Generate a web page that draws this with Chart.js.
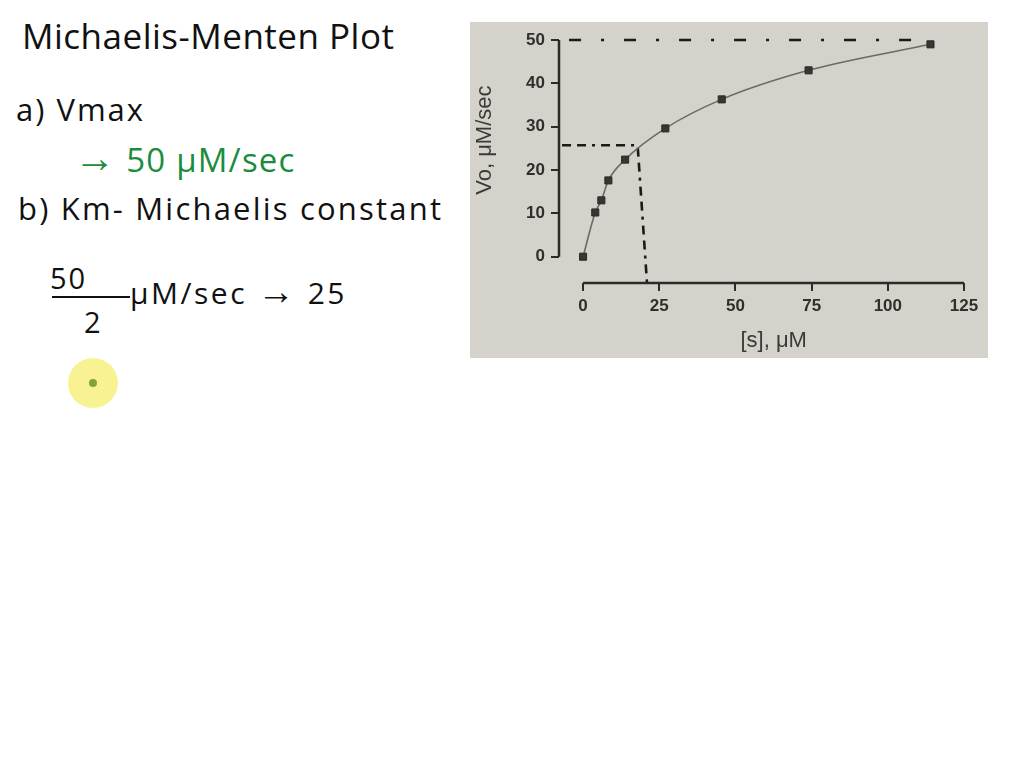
<!DOCTYPE html>
<html>
<head>
<meta charset="UTF-8">
<title>Michaelis-Menten Plot</title>
<script src="https://cdn.jsdelivr.net/npm/chart.js@4"></script>
<style>
  body { margin: 0; background: #ffffff; width: 1024px; height: 768px; overflow: hidden; position: relative; font-family: "Open Sans", sans-serif; }
  .note { position: absolute; white-space: nowrap; color: #111; font-weight: 400; }
  .green { color: #1c8c3c; }
  .arrow { font-size: 1.25em; }
  .panel { position: absolute; left: 470px; top: 22px; width: 518px; height: 336px; background: #d4d2cb; }
  .frac { position: absolute; left: 52px; top: 296px; width: 78px; border-top: 2px solid #111; }
  .pointer { position: absolute; left: 68px; top: 358px; width: 50px; height: 50px; border-radius: 50%; background: #f8f293; }
  .pointer div { position: absolute; left: 21px; top: 21px; width: 8px; height: 8px; border-radius: 50%; background: #86a040; }
</style>
</head>
<body>
  <div class="note" style="left:22px; top:12px; font-size:35px; letter-spacing:0.5px;">Michaelis-Menten Plot</div>
  <div class="note" style="left:16px; top:88px; font-size:31px; letter-spacing:2px;">a) Vmax</div>
  <div class="note green" style="left:74px; top:128px; font-size:33px; letter-spacing:1.2px;"><span class="arrow">→</span> 50 μM/sec</div>
  <div class="note" style="left:18px; top:187px; font-size:31px; letter-spacing:2.2px;">b) Km- Michaelis constant</div>
  <div class="note" style="left:50px; top:258px; font-size:29px; letter-spacing:2px;">50</div>
  <div class="frac"></div>
  <div class="note" style="left:84px; top:302px; font-size:29px;">2</div>
  <div class="note" style="left:130px; top:264px; font-size:30px; letter-spacing:2.5px;">μM/sec <span class="arrow">→</span> 25</div>
  <div class="pointer"><div></div></div>

  <div class="panel">
    <canvas id="mmChart"></canvas>
  </div>

  <script>
    // measured substrate concentration and initial velocity
    const substrate = [0, 4, 6, 8.3, 13.8, 27, 45.5, 74, 114];
    const velocity = [0, 10.2, 13, 17.6, 22.4, 29.6, 36.3, 43, 49];

    // hand drawn guide lines (Vmax and Km)
    const vmaxX = [-4.6, 113];
    const vmaxY = [50, 50];
    const kmX = [-6.9, 17.9, 21];
    const kmY = [25.7, 25.7, -6.3];

    const xTicks = [0, 25, 50, 75, 100, 125];
    const yTicks = [0, 10, 20, 30, 40, 50];

    function pairs(xs, ys) {
      return xs.map((x, i) => ({ x: x, y: ys[i] }));
    }

    const ink = '#2b2b2a';

    // Prism style axes: lines only span the tick range
    const axisLines = {
      id: 'axisLines',
      afterDraw(chart) {
        const ctx = chart.ctx;
        const xs = chart.scales.x, ys = chart.scales.y;
        const area = chart.chartArea;
        ctx.save();
        ctx.strokeStyle = ink;
        ctx.lineWidth = 2.5;
        ctx.beginPath();
        ctx.moveTo(xs.getPixelForValue(xTicks[0]), area.bottom);
        ctx.lineTo(xs.getPixelForValue(xTicks[xTicks.length - 1]), area.bottom);
        ctx.moveTo(area.left, ys.getPixelForValue(yTicks[0]));
        ctx.lineTo(area.left, ys.getPixelForValue(yTicks[yTicks.length - 1]));
        ctx.stroke();
        ctx.restore();
      }
    };

    const tickFont = { family: 'Liberation Sans, Arial, sans-serif', size: 17, weight: 'bold' };
    const titleFont = { family: 'Liberation Sans, Arial, sans-serif', size: 22 };
    const nb = '\u00a0';

    new Chart(document.getElementById('mmChart'), {
      type: 'scatter',
      data: {
        datasets: [{
          label: 'data',
          data: pairs(substrate, velocity),
          pointStyle: 'rect',
          pointRadius: 5,
          backgroundColor: '#363634',
          borderColor: '#2a2a28',
          borderWidth: 1
        }, {
          label: 'fit',
          data: pairs(substrate, velocity),
          showLine: true,
          pointRadius: 0,
          borderColor: '#6a6a66',
          borderWidth: 1.6,
          cubicInterpolationMode: 'monotone'
        }, {
          label: 'Vmax',
          data: pairs(vmaxX, vmaxY),
          showLine: true,
          pointRadius: 0,
          borderColor: '#1a1a1a',
          borderWidth: 2.6,
          borderDash: [12, 20, 3, 20],
          clip: false
        }, {
          label: 'Km',
          data: pairs(kmX, kmY),
          showLine: true,
          pointRadius: 0,
          borderColor: '#1a1a1a',
          borderWidth: 2.6,
          borderDash: [9, 6, 9, 6, 3, 6],
          clip: false
        }]
      },
      options: {
        responsive: true,
        maintainAspectRatio: false,
        animation: false,
        layout: { padding: { top: 18, right: 24, left: 0, bottom: 0 } },
        plugins: { legend: { display: false }, tooltip: { enabled: false } },
        scales: {
          x: {
            type: 'linear',
            min: -7.9,
            max: 125,
            afterBuildTicks: s => { s.ticks = xTicks.map(v => ({ value: v })); },
            afterFit: s => { s.height = 75; },
            border: { display: false },
            grid: { drawOnChartArea: false, drawTicks: true, tickLength: 8, color: ink, lineWidth: 2 },
            ticks: { color: '#2f2f2d', font: tickFont, padding: 5, maxRotation: 0 },
            title: { display: true, text: nb.repeat(4) + '[s], μM', color: '#3a3a38', font: titleFont, padding: { top: 0, bottom: 4 } }
          },
          y: {
            type: 'linear',
            min: -6.07,
            max: 50,
            afterBuildTicks: s => { s.ticks = yTicks.map(v => ({ value: v })); },
            afterFit: s => { s.width = 89; },
            border: { display: false },
            grid: { drawOnChartArea: false, drawTicks: true, tickLength: 8, color: ink, lineWidth: 2 },
            ticks: { color: '#2f2f2d', font: tickFont, padding: 6 },
            title: { display: true, text: nb.repeat(7) + 'Vo, μM/sec', color: '#3a3a38', font: titleFont, padding: { top: 2, bottom: 0 } }
          }
        }
      },
      plugins: [axisLines]
    });
  </script>
</body>
</html>
